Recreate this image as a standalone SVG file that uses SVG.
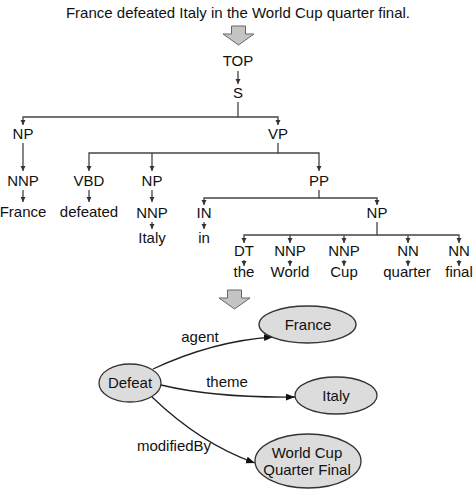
<svg xmlns="http://www.w3.org/2000/svg" width="474" height="489" viewBox="0 0 474 489">
<defs>
<style>
text{font-family:"Liberation Sans",Arial,sans-serif;font-size:15px;fill:#111;text-anchor:middle}
.t{fill:none;stroke:#444;stroke-width:1.3}
.e{fill:none;stroke:#222;stroke-width:1.3}
.n{fill:#dcdcdc;stroke:#333;stroke-width:1.3}
.blk{fill:#c4c4c4;stroke:#666;stroke-width:1}
</style>
<marker id="a" markerUnits="userSpaceOnUse" markerWidth="6" markerHeight="6" refX="5" refY="3" orient="auto"><path d="M0,0.5 L5,3 L0,5.5z" fill="#333"/></marker>
<marker id="b" markerUnits="userSpaceOnUse" markerWidth="10" markerHeight="8" refX="9" refY="4" orient="auto"><path d="M0,0.5 L9,4 L0,7.5z" fill="#111"/></marker>
</defs>
<text x="238" y="18">France defeated Italy in the World Cup quarter final.</text>
<path class="blk" d="M231.5,26 H245.5 V34 H254 L238.5,45 L223,34 H231.5z"/>
<path class="blk" d="M227.5,290 H241.5 V298 H250 L234.5,309 L219,298 H227.5z"/>
<g id="tree-connectors">
<path class="t" marker-end="url(#a)" d="M238,71 V84"/>
<path class="t" marker-end="url(#a)" d="M238,102 V117 H23 V125"/>
<path class="t" marker-end="url(#a)" d="M238,117 H278 V125"/>
<path class="t" marker-end="url(#a)" d="M23,143 V171"/>
<path class="t" marker-end="url(#a)" d="M278,143 V153 H89 V171"/>
<path class="t" marker-end="url(#a)" d="M152,153 V171"/>
<path class="t" marker-end="url(#a)" d="M278,153 H319 V171"/>
<path class="t" marker-end="url(#a)" d="M23,190 V202"/>
<path class="t" marker-end="url(#a)" d="M89,190 V202"/>
<path class="t" marker-end="url(#a)" d="M152,190 V202"/>
<path class="t" marker-end="url(#a)" d="M319,190 V198 H204 V205"/>
<path class="t" marker-end="url(#a)" d="M319,198 H377 V205"/>
<path class="t" marker-end="url(#a)" d="M152,222 V229"/>
<path class="t" marker-end="url(#a)" d="M204,222 V229"/>
<path class="t" marker-end="url(#a)" d="M377,222 V235 H244 V243"/>
<path class="t" marker-end="url(#a)" d="M377,235 H459 V243"/>
<path class="t" marker-end="url(#a)" d="M290,235 V243"/>
<path class="t" marker-end="url(#a)" d="M344,235 V243"/>
<path class="t" marker-end="url(#a)" d="M408,235 V243"/>
<path class="t" marker-end="url(#a)" d="M244,260 V266"/>
<path class="t" marker-end="url(#a)" d="M290,260 V266"/>
<path class="t" marker-end="url(#a)" d="M344,260 V266"/>
<path class="t" marker-end="url(#a)" d="M408,260 V266"/>
<path class="t" marker-end="url(#a)" d="M459,260 V266"/>
</g>
<g id="tree-nodes">
<g id="n-top"><text x="238" y="66">TOP</text></g>
<g id="n-s"><text x="238" y="98">S</text></g>
<g id="n-np1"><text x="23" y="139">NP</text></g>
<g id="n-vp"><text x="278" y="139">VP</text></g>
<g id="n-nnp1"><text x="23" y="186">NNP</text></g>
<g id="n-vbd"><text x="89" y="186">VBD</text></g>
<g id="n-np2"><text x="152" y="186">NP</text></g>
<g id="n-pp"><text x="319" y="186">PP</text></g>
<g id="w-france"><text x="23" y="217">France</text></g>
<g id="w-defeated"><text x="89" y="217">defeated</text></g>
<g id="n-nnp2"><text x="152" y="218">NNP</text></g>
<g id="n-in"><text x="204" y="218">IN</text></g>
<g id="n-np3"><text x="377" y="218">NP</text></g>
<g id="w-italy"><text x="152" y="243">Italy</text></g>
<g id="w-in"><text x="204" y="243">in</text></g>
<g id="n-dt"><text x="244" y="256">DT</text></g>
<g id="n-nnp3"><text x="290" y="256">NNP</text></g>
<g id="n-nnp4"><text x="344" y="256">NNP</text></g>
<g id="n-nn1"><text x="408" y="256">NN</text></g>
<g id="n-nn2"><text x="459" y="256">NN</text></g>
<g id="w-the"><text x="244" y="277">the</text></g>
<g id="w-world"><text x="290" y="277">World</text></g>
<g id="w-cup"><text x="344" y="277">Cup</text></g>
<g id="w-quarter"><text x="407" y="277">quarter</text></g>
<g id="w-final"><text x="459" y="277">final</text></g>
</g>
<g id="graph-connectors">
<path class="e" marker-end="url(#b)" d="M153,369 Q213,341 273,337"/>
<path class="e" marker-end="url(#b)" d="M161,385 Q215,398 295,397"/>
<path class="e" marker-end="url(#b)" d="M152,397 Q201,444 255,463"/>
<text x="200" y="342">agent</text>
<text x="227" y="387">theme</text>
<text x="174" y="451">modifiedBy</text>
</g>
<g id="g-defeat"><ellipse class="n" cx="130" cy="383" rx="31" ry="19"/><text x="130" y="388">Defeat</text></g>
<g id="g-france"><ellipse class="n" cx="307.5" cy="324.5" rx="48.5" ry="18.5"/><text x="308" y="329.5">France</text></g>
<g id="g-italy"><ellipse class="n" cx="336" cy="395.5" rx="41" ry="18.5"/><text x="336" y="401">Italy</text></g>
<g id="g-wcqf"><ellipse class="n" cx="308" cy="461" rx="53" ry="27"/><text x="307" y="458">World Cup</text><text x="307" y="475">Quarter Final</text></g>
</svg>
